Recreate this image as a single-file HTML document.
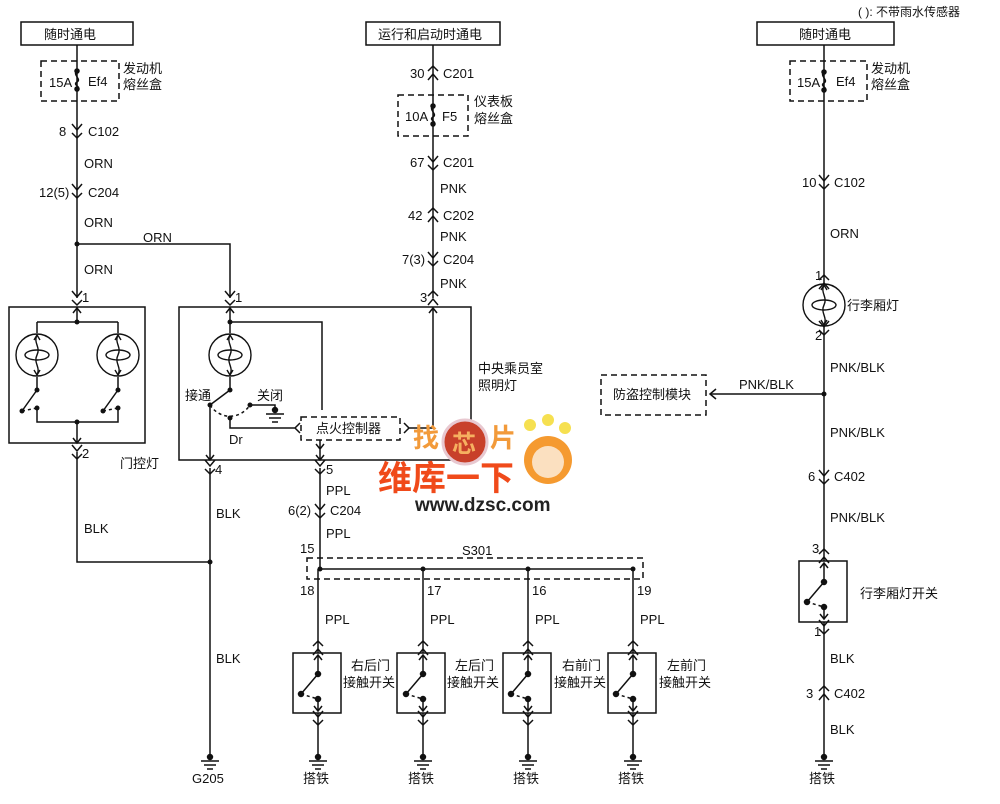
<!DOCTYPE html>
<html><head><meta charset="utf-8"><style>
html,body{margin:0;padding:0;background:#fff;}
svg{display:block;}
text{font-family:"Liberation Sans","Noto Sans CJK SC",sans-serif;font-size:13px;fill:#111;}
.cn{font-family:"Liberation Sans","Noto Sans CJK SC",sans-serif;}
</style></head><body>
<svg width="1000" height="804" viewBox="0 0 1000 804" xmlns="http://www.w3.org/2000/svg">
<defs>
<g id="cd" fill="none" stroke="#111" stroke-width="1.5"><path d="M-5,-7 L0,-1 L5,-7 M-5,2 L0,7 L5,2"/></g>
<g id="cu" fill="none" stroke="#111" stroke-width="1.5"><path d="M-5,-2 L0,-7 L5,-2 M-5,7 L0,1 L5,7"/></g>
<g id="fuse" fill="none" stroke="#111" stroke-width="1.5"><path d="M0,-9 C-5,-5 5,-1 0,2 C-5,5 5,7 0,9"/><circle cx="0" cy="-9" r="2" fill="#111"/><circle cx="0" cy="9" r="2" fill="#111"/></g>
<g id="lamp" fill="none" stroke="#111" stroke-width="1.4"><circle r="21"/><ellipse rx="12" ry="5"/><path d="M0,-20 C-4,-12 4,-8 0,0 C-4,8 4,12 0,20 M-3,-15 L0,-20 L3,-15 M-3,15 L0,20 L3,15"/></g>
<g id="gnd" stroke="#111" stroke-width="1.4"><circle r="2.5" fill="#111"/><path d="M-9,4 H9 M-6,8 H6 M-3,12 H3"/></g>
<g id="sw" fill="none" stroke="#111" stroke-width="1.5"><path d="M0,2 V20 M-4,7 L0,2 L4,7 M0,21 L-17,41 M0,48 V58 M-4,53 L0,58 L4,53"/><path d="M-17,41 L0,46" stroke-dasharray="3,3"/><circle cx="0" cy="21" r="2.5" fill="#111"/><circle cx="-17" cy="41" r="2.5" fill="#111"/><circle cx="0" cy="46" r="2.5" fill="#111"/></g>
</defs>

<g fill="none" stroke="#111" stroke-width="1.5">
<!-- header boxes -->
<rect x="21" y="22" width="112" height="23"/>
<rect x="366" y="22" width="134" height="23"/>
<rect x="757" y="22" width="137" height="23"/>
<!-- fuse boxes -->
<rect x="41" y="61" width="78" height="40" stroke-dasharray="6,4"/>
<rect x="398" y="95" width="70" height="41" stroke-dasharray="6,4"/>
<rect x="790" y="61" width="77" height="40" stroke-dasharray="6,4"/>
<!-- left wire -->
<path d="M77,45 V298 M77,244 H230 V298"/>
<path d="M77,452 V562 H210"/>
<!-- left box -->
<rect x="9" y="307" width="136" height="136"/>
<path d="M77,307 V322 M37,322 H118 M37,322 V333 M118,322 V333 M37,377 V390 M118,377 V390 M37,408 V422 H118 V408 M77,422 V443"/>
<path d="M73,313 L77,308 L81,313 M73,438 L77,443 L81,438"/>
<path d="M37,390 L22,411 M118,390 L103,411"/>
<path d="M22,411 L37,408 M103,411 L118,408" stroke-dasharray="3,3"/>
<!-- middle box -->
<rect x="179" y="307" width="292" height="153"/>
<path d="M230,307 V333 M230,322 H322 V410 M226,313 L230,308 L234,313 M230,377 V390"/>
<path d="M230,390 L210,405 M210,405 V460 M206,455 L210,460 L214,455"/>
<path d="M210,405 C220,420 240,420 250,405" stroke-dasharray="3,3"/>
<path d="M230,418 V428 H295 M300,423 L295,428 L300,433"/>
<path d="M250,405 H275 V410"/>
<path d="M404,423 L409,428 L404,433 M409,428 H433 V307 M429,313 L433,308 L437,313"/>
<path d="M320,440 V460 M316,455 L320,460 L324,455 M316,444 L320,449 L324,444"/>
<rect x="301" y="417" width="99" height="23" stroke-dasharray="6,4"/>
<!-- middle top wire -->
<path d="M433,45 V298"/>
<!-- below middle box -->
<path d="M210,468 V757 M320,468 V569 H633 M318,569 V653 M423,569 V653 M528,569 V653 M633,569 V653"/>
<rect x="307" y="558" width="336" height="21" stroke-dasharray="6,4"/>
<rect x="293" y="653" width="48" height="60"/>
<rect x="397" y="653" width="48" height="60"/>
<rect x="503" y="653" width="48" height="60"/>
<rect x="608" y="653" width="48" height="60"/>
<path d="M318,713 V757 M423,713 V757 M528,713 V757 M633,713 V757"/>
<!-- right -->
<path d="M824,45 V284 M824,326 V561 M824,622 V757 M710,394 H824"/>
<path d="M716,389 L710,394 L716,399"/>
<rect x="601" y="375" width="105" height="40" stroke-dasharray="6,4"/>
<rect x="799" y="561" width="48" height="61"/>
</g>
<g fill="#111">
<circle cx="77" cy="244" r="2.5"/><circle cx="77" cy="322" r="2.5"/><circle cx="77" cy="422" r="2.5"/>
<circle cx="37" cy="390" r="2.5"/><circle cx="118" cy="390" r="2.5"/><circle cx="22" cy="411" r="2.5"/><circle cx="103" cy="411" r="2.5"/><circle cx="37" cy="408" r="2.5"/><circle cx="118" cy="408" r="2.5"/>
<circle cx="230" cy="322" r="2.5"/><circle cx="230" cy="390" r="2.5"/><circle cx="210" cy="405" r="2.5"/><circle cx="230" cy="418" r="2.5"/><circle cx="250" cy="405" r="2.5"/>
<circle cx="210" cy="562" r="2.5"/>
<circle cx="320" cy="569" r="2.5"/><circle cx="423" cy="569" r="2.5"/><circle cx="528" cy="569" r="2.5"/><circle cx="633" cy="569" r="2.5"/>
<circle cx="824" cy="394" r="2.5"/>
</g>
<!-- fuses -->
<use href="#fuse" x="77" y="80"/><use href="#fuse" x="433" y="115"/><use href="#fuse" x="824" y="81"/>
<!-- lamps -->
<use href="#lamp" x="37" y="355"/><use href="#lamp" x="118" y="355"/><use href="#lamp" x="230" y="355"/><use href="#lamp" x="824" y="305"/>
<!-- switches -->
<use href="#sw" x="318" y="653"/><use href="#sw" x="423" y="653"/><use href="#sw" x="528" y="653"/><use href="#sw" x="633" y="653"/><use href="#sw" x="824" y="561"/>
<!-- grounds -->
<use href="#gnd" x="210" y="757"/><use href="#gnd" x="318" y="757"/><use href="#gnd" x="423" y="757"/><use href="#gnd" x="528" y="757"/><use href="#gnd" x="633" y="757"/><use href="#gnd" x="824" y="757"/><use href="#gnd" x="275" y="410"/>
<!-- connectors -->
<use href="#cd" x="77" y="131"/><use href="#cd" x="77" y="191"/><use href="#cd" x="77" y="298"/><use href="#cd" x="230" y="298"/><use href="#cd" x="77" y="452"/>
<use href="#cu" x="433" y="73"/><use href="#cd" x="433" y="163"/><use href="#cu" x="433" y="215"/><use href="#cd" x="433" y="259"/><use href="#cu" x="433" y="298"/>
<use href="#cd" x="210" y="467"/><use href="#cd" x="320" y="467"/><use href="#cd" x="320" y="511"/>
<use href="#cu" x="318" y="648"/><use href="#cu" x="423" y="648"/><use href="#cu" x="528" y="648"/><use href="#cu" x="633" y="648"/>
<use href="#cd" x="318" y="718"/><use href="#cd" x="423" y="718"/><use href="#cd" x="528" y="718"/><use href="#cd" x="633" y="718"/>
<use href="#cd" x="824" y="182"/><use href="#cu" x="824" y="282"/><use href="#cd" x="824" y="328"/><use href="#cd" x="824" y="477"/><use href="#cu" x="824" y="556"/><use href="#cd" x="824" y="627"/><use href="#cu" x="824" y="693"/>

<!-- texts -->
<text x="44" y="39">随时通电</text>
<text x="378" y="39">运行和启动时通电</text>
<text x="799" y="39">随时通电</text>
<text x="858" y="16" style="font-size:12px">( ): 不带雨水传感器</text>
<text x="49" y="87">15A</text><text x="88" y="86">Ef4</text>
<text x="123" y="73">发动机</text><text x="123" y="89">熔丝盒</text>
<text x="797" y="87">15A</text><text x="836" y="86">Ef4</text>
<text x="871" y="73">发动机</text><text x="871" y="89">熔丝盒</text>
<text x="405" y="121">10A</text><text x="442" y="121">F5</text>
<text x="474" y="106">仪表板</text><text x="474" y="123">熔丝盒</text>
<text x="59" y="136">8</text><text x="88" y="136">C102</text>
<text x="84" y="168">ORN</text>
<text x="39" y="197">12(5)</text><text x="88" y="197">C204</text>
<text x="84" y="227">ORN</text>
<text x="143" y="242">ORN</text>
<text x="84" y="274">ORN</text>
<text x="82" y="302">1</text><text x="235" y="302">1</text><text x="420" y="302">3</text>
<text x="82" y="458">2</text><text x="120" y="468">门控灯</text>
<text x="215" y="474">4</text><text x="326" y="474">5</text>
<text x="185" y="400">接通</text><text x="257" y="400">关闭</text><text x="229" y="444">Dr</text>
<text x="316" y="433">点火控制器</text>
<text x="478" y="373">中央乘员室</text><text x="478" y="390">照明灯</text>
<text x="84" y="533">BLK</text><text x="216" y="518">BLK</text><text x="216" y="663">BLK</text>
<text x="192" y="783">G205</text>
<text x="410" y="78">30</text><text x="443" y="78">C201</text>
<text x="410" y="167">67</text><text x="443" y="167">C201</text>
<text x="440" y="193">PNK</text>
<text x="408" y="220">42</text><text x="443" y="220">C202</text>
<text x="440" y="241">PNK</text>
<text x="402" y="264">7(3)</text><text x="443" y="264">C204</text>
<text x="440" y="288">PNK</text>
<text x="326" y="495">PPL</text>
<text x="288" y="515">6(2)</text><text x="330" y="515">C204</text>
<text x="326" y="538">PPL</text>
<text x="300" y="553">15</text><text x="462" y="555">S301</text>
<text x="300" y="595">18</text><text x="427" y="595">17</text><text x="532" y="595">16</text><text x="637" y="595">19</text>
<text x="325" y="624">PPL</text><text x="430" y="624">PPL</text><text x="535" y="624">PPL</text><text x="640" y="624">PPL</text>
<text x="351" y="670">右后门</text><text x="343" y="687">接触开关</text>
<text x="455" y="670">左后门</text><text x="447" y="687">接触开关</text>
<text x="562" y="670">右前门</text><text x="554" y="687">接触开关</text>
<text x="667" y="670">左前门</text><text x="659" y="687">接触开关</text>
<text x="303" y="783">搭铁</text><text x="408" y="783">搭铁</text><text x="513" y="783">搭铁</text><text x="618" y="783">搭铁</text><text x="809" y="783">搭铁</text>
<text x="802" y="187">10</text><text x="834" y="187">C102</text>
<text x="830" y="238">ORN</text>
<text x="815" y="280">1</text><text x="815" y="340">2</text>
<text x="847" y="310">行李厢灯</text>
<text x="830" y="372">PNK/BLK</text>
<text x="739" y="389">PNK/BLK</text>
<text x="613" y="399">防盗控制模块</text>
<text x="830" y="437">PNK/BLK</text>
<text x="808" y="481">6</text><text x="834" y="481">C402</text>
<text x="830" y="522">PNK/BLK</text>
<text x="812" y="553">3</text>
<text x="860" y="598">行李厢灯开关</text>
<text x="814" y="636">1</text>
<text x="830" y="663">BLK</text>
<text x="806" y="698">3</text><text x="834" y="698">C402</text>
<text x="830" y="734">BLK</text>
<!-- watermark -->
<text x="413" y="447" style="font-size:26px;font-weight:bold;fill:#f29a3a">找</text>
<circle cx="465" cy="442" r="22" fill="#c8402a" stroke="#e8c8d0" stroke-width="3"/>
<text x="452" y="452" style="font-size:24px;font-weight:bold;fill:#f6b060">芯</text>
<text x="490" y="447" style="font-size:26px;font-weight:bold;fill:#f29a3a">片</text>
<circle cx="548" cy="460" r="24" fill="#f59a30"/>
<circle cx="548" cy="462" r="16" fill="#fbe0c0"/>
<circle cx="530" cy="425" r="6" fill="#f6e050"/><circle cx="548" cy="420" r="6" fill="#f6e050"/><circle cx="565" cy="428" r="6" fill="#f6e050"/>
<text x="378" y="490" style="font-size:34px;font-weight:bold;fill:#f04a1a">维库一下</text>
<text x="415" y="511" style="font-size:19px;font-weight:bold;fill:#222">www.dzsc.com</text>
</svg>
</body></html>
